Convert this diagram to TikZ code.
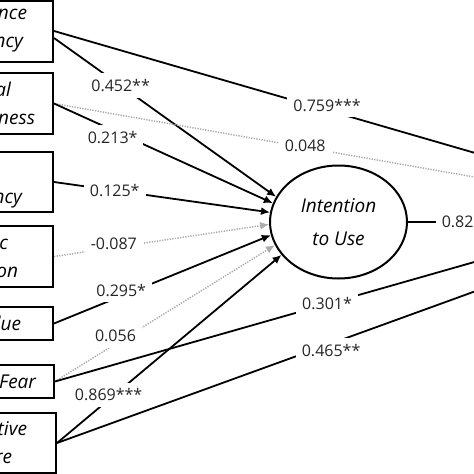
\documentclass[tikz,border=0pt]{standalone}
\usepackage{fontspec}
\setmainfont{Open Sans}
\usepackage{tikz}
\usetikzlibrary{shapes, arrows.meta}
\tikzstyle{factor} = [rectangle, draw, line width=2pt, text width=100pt, align=right, inner xsep=0pt, inner ysep=0pt, anchor=east, font=\itshape\fontsize{19}{28}\selectfont]
\tikzstyle{latent} = [ellipse, draw, line width=2pt, minimum width=137pt, minimum height=113pt, inner sep=0pt, align=center, font=\itshape\fontsize{19}{33}\selectfont]
\tikzstyle{effect} = [draw, line width=1.8pt, -{Latex[length=9pt, width=8pt]}]
\tikzstyle{weakEffect} = [draw, line width=1.5pt, gray!65, dash pattern=on 1.3pt off 1.3pt, -{Latex[length=9pt, width=8pt]}]
\tikzstyle{coef} = [fill=white, inner sep=6pt, text=black!85, font=\fontsize{16}{16}\selectfont]

\begin{document}
\begin{tikzpicture}[x=1pt, y=-1pt]

\useasboundingbox (0,0) rectangle (474,474);
\clip (0,0) rectangle (474,474);

\node[factor, minimum height=61pt] at (54,31) (perfExp) {ance\kern26pt\\ncy\kern30pt};
\node[factor, minimum height=61pt] at (54,103.5) (persInnov) {al\kern42pt\\ness\kern18pt};
\node[factor, minimum height=60pt] at (54,182) (effortExp) {\strut\\ncy\kern31pt};
\node[factor, minimum height=61pt] at (54,256.5) (hedonic) {ic\kern45pt\\on\kern35pt};
\node[factor, minimum height=33pt] at (54,323.5) (priceValue) {lue\kern32pt};
\node[factor, minimum height=33pt] at (55,381.5) (fear) {Fear\kern18pt};
\node[factor, minimum height=60pt] at (57,443) (pressure) {tive\kern29pt\\re\kern44pt};

\node[latent] at (338.5,222) (intention) {Intention\\to Use};

\coordinate (useBehav1) at (520,166);
\coordinate (useBehav2) at (520,185);
\coordinate (useBehav3) at (520,222);
\coordinate (useBehav4) at (520,249);
\coordinate (useBehav5) at (520,275);

\path [effect] (perfExp.east) -- node[coef, pos=0.586, yshift=5pt] {0.759***} (useBehav1);
\path [effect] ([yshift=-7pt]perfExp.east) -- node[coef, pos=0.3] {0.452**} (intention.158);

\path [weakEffect] (persInnov.east) -- node[coef, pos=0.539, yshift=2pt] {0.048} (useBehav2);
\path [effect] (persInnov.east) -- node[coef, pos=0.268, yshift=-7pt] {0.213*} (intention.164);

\path [effect] (effortExp.east) -- node[coef, pos=0.281] {0.125*} (intention.172);
\path [weakEffect] (hedonic.east) -- node[coef, pos=0.278, yshift=4pt] {-0.087} (intention.182);
\path [effect] (priceValue.east) -- node[coef, pos=0.31, yshift=6pt] {0.295*} (intention.191);

\path [weakEffect] (fear.east) -- node[coef, pos=0.275, yshift=8pt] {0.056} (intention.200);
\path [effect] (fear.east) -- node[coef, pos=0.585] {0.301*} (useBehav4);

\path [effect] (pressure.east) -- node[coef, pos=0.23, yshift=5pt] {0.869***} (intention.210);
\path [effect] (pressure.east) -- node[coef, pos=0.592, yshift=-7pt] {0.465**} (useBehav5);

\path [effect] (intention.east) -- node[coef, pos=0.24, anchor=west] {0.82} (useBehav3);

\end{tikzpicture}
\end{document}
